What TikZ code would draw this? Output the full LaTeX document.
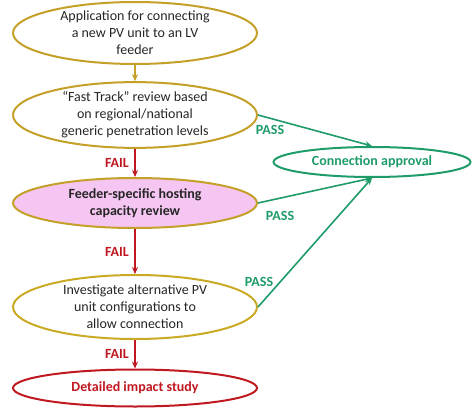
\documentclass[tikz,border=0pt]{standalone}
\usepackage{fontspec}
\setmainfont{Carlito}
\usetikzlibrary{shapes.geometric,arrows.meta}

\definecolor{gold}{RGB}{196,160,40}
\definecolor{passgreen}{RGB}{30,155,105}
\definecolor{failred}{RGB}{192,24,32}
\definecolor{pinkfill}{RGB}{246,198,242}

\tikzset{
  stage/.style={ellipse,draw=gold,line width=2pt,inner sep=0pt,align=center,
    minimum width=244pt,font=\fontsize{14}{17}\selectfont,text=black!85},
  fail/.style={-{Stealth[length=7pt,width=6pt]},draw=failred,line width=1.6pt},
  pass/.style={-{Stealth[length=7pt,width=6pt]},draw=passgreen,line width=1.6pt},
  faillbl/.style={text=failred,font=\fontsize{14}{16}\selectfont\bfseries},
  passlbl/.style={text=passgreen,font=\fontsize{14}{16}\selectfont\bfseries}
}

\begin{document}
\begin{tikzpicture}[x=1pt,y=-1pt]
  \useasboundingbox (0,0) rectangle (474,412);

  \node[stage,minimum height=57pt] (apply) at (135,33)
    {Application for connecting\\a new PV unit to an LV\\feeder};
  \node[stage,minimum height=64pt] (fast) at (135,115)
    {``Fast Track'' review based\\on regional/national\\generic penetration levels};
  \node[stage,minimum height=50pt,fill=pinkfill,font=\fontsize{14}{17}\selectfont\bfseries] (host) at (135,203)
    {Feeder-specific hosting\\capacity review};
  \node[stage,minimum height=64pt,draw=gold!90!yellow] (alt) at (135,307)
    {Investigate alternative PV\\unit configurations to\\allow connection};
  \node[stage,minimum height=37pt,draw=failred,text=failred,font=\fontsize{14}{17}\selectfont\bfseries] (study) at (135,388)
    {Detailed impact study};
  \node[ellipse,draw=passgreen,line width=2pt,minimum width=197pt,minimum height=30pt,inner sep=0pt,
    text=passgreen,font=\fontsize{14}{17}\selectfont\bfseries] (ok) at (372,162) {Connection approval};

  % down the chain
  \draw[-{Stealth[length=7pt,width=6pt]},draw=gold,line width=1.6pt] (apply) -- (fast);
  \draw[fail] (fast) -- node[faillbl,left=2pt] {FAIL} (host);
  \draw[fail] (host) -- node[faillbl,left=2pt] {FAIL} (alt);
  \draw[fail] (alt) -- node[faillbl,left=2pt] {FAIL} (study);

  % approvals
  \draw[pass] (fast.east) -- (ok.north);
  \draw[pass] (host.east) -- (ok.south);
  \draw[pass] (alt.east) -- (ok.south);
  \node[passlbl] (pass1) at (270,130) {PASS};
  \node[passlbl] (pass2) at (280,216) {PASS};
  \node[passlbl] (pass3) at (259,282) {PASS};
\end{tikzpicture}
\end{document}
